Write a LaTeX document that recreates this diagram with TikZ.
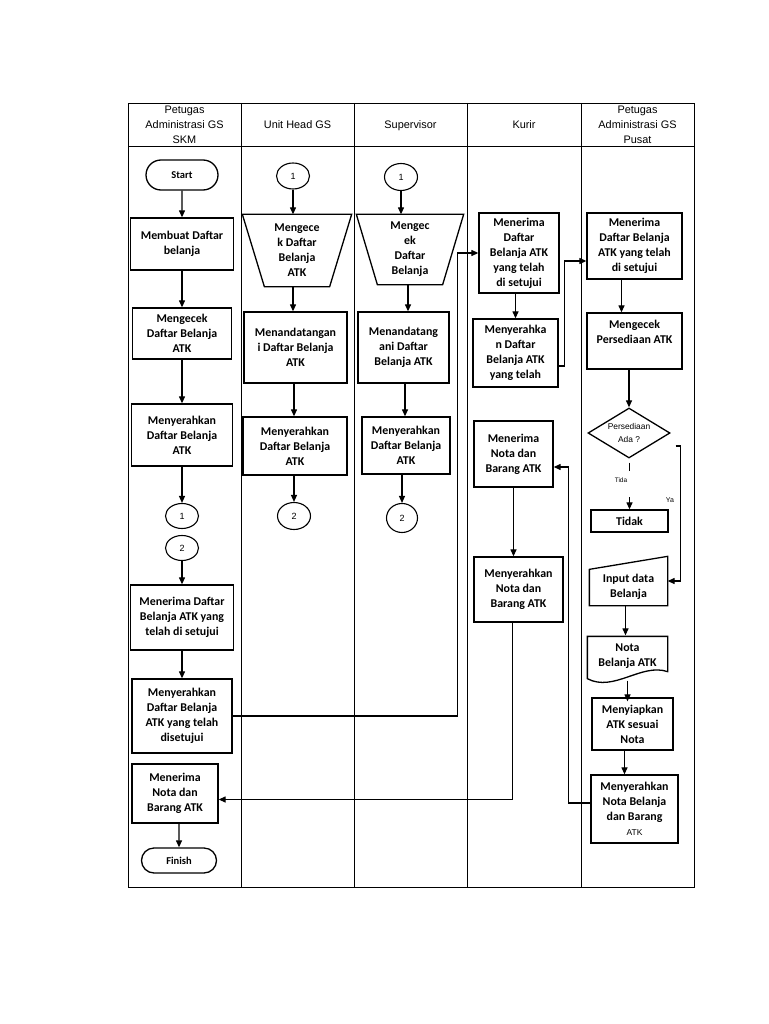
\documentclass[tikz,border=0pt]{standalone}
\usepackage{fontspec}
\setmainfont{Carlito}
\newfontfamily\arialfont{Liberation Sans}
\usetikzlibrary{arrows.meta,calc,shapes.geometric,shapes.misc}
\tikzset{
  every picture/.style={line width=1pt},
  wh/.style 2 args={minimum width=#1pt, minimum height=#2pt},
  box/.style={draw, line width=1.3pt, fill=white, align=center, inner sep=1pt, font=\fontsize{11.9pt}{15pt}\selectfont\bfseries},
  term/.style={box, rounded rectangle, inner sep=0pt, font=\fontsize{10.5pt}{12pt}\selectfont\bfseries},
  conn/.style={draw, ellipse, line width=1.1pt, fill=white, inner sep=0pt, wh={33}{26}, font=\arialfont\fontsize{9pt}{10pt}\selectfont},
  bare/.style={box, draw=none, fill=none},
  shapeline/.style={line width=1.3pt},
  decide/.style={box, diamond, shape aspect=1.64, inner sep=0pt, font=\arialfont\fontsize{8.4pt}{12.5pt}\selectfont},
  flow/.style={-{Triangle[length=7pt,width=6pt]}, line width=1.2pt},
  tbl/.style={line width=0.9pt},
  hdr/.style={align=center, font=\arialfont\fontsize{10.9pt}{15pt}\selectfont},
  note/.style={font=\arialfont\fontsize{6.5pt}{8pt}\selectfont, inner sep=1pt},
}

\begin{document}
\begin{tikzpicture}[x=1pt,y=-1pt]
  \useasboundingbox (0,0) rectangle (768,1024);
  % swimlanes
  \draw[tbl] (128,103) rectangle (694,887);
  \draw[tbl] (128,146) -- (694,146);
  \foreach \x in {241,354,467,581} \draw[tbl] (\x,103) -- (\x,887);
  \node[hdr] (hSkm) at (184.5,125) {Petugas\\Administrasi GS\\SKM};
  \node[hdr, anchor=base] (hUnit) at (297.5,129) {Unit Head GS};
  \node[hdr, anchor=base] (hSpv) at (410.5,129) {Supervisor};
  \node[hdr, anchor=base] (hKurir) at (524,129) {Kurir};
  \node[hdr] (hPusat) at (637.5,125) {Petugas\\Administrasi GS\\Pusat};

  % Petugas Administrasi GS SKM
  \node[term, wh={72}{30}] (sStart) at (182,175) {Start};
  \node[box, wh={103}{52}] (sMake) at (182,244) {Membuat Daftar\\belanja};
  \node[box, wh={99}{51}] (sCheck) at (182,333.5) {Mengecek\\Daftar Belanja\\ATK};
  \node[box, wh={101}{62}] (sHand) at (182,435) {Menyerahkan\\Daftar Belanja\\ATK};
  \node[conn, wh={33}{25}] (sOff1) at (182,516) {1};
  \node[conn, wh={33}{25}] (sOn2) at (182,548) {2};
  \node[box, wh={103}{65}] (sRecv) at (182,617.5) {Menerima Daftar\\Belanja ATK yang\\telah di setujui};
  \node[box, wh={100}{74}] (sSend) at (182,716) {Menyerahkan\\Daftar Belanja\\ATK yang telah\\disetujui};
  \node[box, wh={86}{59}] (sRecvNota) at (175,793.5) {Menerima\\Nota dan\\Barang ATK};
  \node[term, wh={75}{25}] (sFinish) at (179,860.5) {Finish};
  \draw[flow] (sStart) -- (sMake);
  \draw[flow] (sMake) -- (sCheck);
  \draw[flow] (sCheck) -- (sHand);
  \draw[flow] (sHand) -- (sOff1);
  \draw[flow] (sOn2) -- (sRecv);
  \draw[flow] (sRecv) -- (sSend);
  \draw[flow] (sRecvNota.south -| sFinish) -- (sFinish);

  % Unit Head GS
  \node[conn] (uOn1) at (293,176) {1};
  \node[bare, wh={108}{71}] (uCheck) at (297,250.5) {Mengece\\k Daftar\\Belanja\\ATK};
  \draw[shapeline] (uCheck.north west) -- (uCheck.north east) -- ($(uCheck.south east)+(-22,0)$) -- ($(uCheck.south west)+(22,0)$) -- cycle;
  \node[box, wh={103}{71}] (uSign) at (295.5,347.5) {Menandatangan\\i Daftar Belanja\\ATK};
  \node[box, wh={104}{58}] (uHand) at (295,446) {Menyerahkan\\Daftar Belanja\\ATK};
  \node[conn, wh={33}{27}] (uOff2) at (294,516) {2};
  \draw[flow] (uOn1) -- (uOn1 |- uCheck.north);
  \draw[flow] (uCheck.south -| uOn1) -- (uOn1 |- uSign.north);
  \draw[flow] (uSign.south -| uOff2) -- (uOff2 |- uHand.north);
  \draw[flow] (uHand.south -| uOff2) -- (uOff2);

  % Supervisor
  \node[conn, wh={33}{27}] (vOn1) at (401,177) {1};
  \node[bare, wh={106}{69}] (vCheck) at (410,249.5) {Mengec\\ek\\Daftar\\Belanja};
  \draw[shapeline] (vCheck.north west) -- (vCheck.north east) -- ($(vCheck.south east)+(-21,0)$) -- ($(vCheck.south west)+(21,0)$) -- cycle;
  \node[box, wh={91}{71}] (vSign) at (403.5,347.5) {Menandatang\\ani Daftar\\Belanja ATK};
  \node[box, wh={88}{57}] (vHand) at (406,445.5) {Menyerahkan\\Daftar Belanja\\ATK};
  \node[conn, wh={31}{29}] (vOff2) at (402,518) {2};
  \draw[flow] (vOn1) -- (vOn1 |- vCheck.north);
  \draw[flow] ([xshift=-2pt]vCheck.south) -- ([xshift=-2pt]vCheck.south |- vSign.north);
  \draw[flow] ([xshift=1.5pt]vSign.south) -- ([xshift=1.5pt]vSign.south |- vHand.north);
  \draw[flow] (vHand.south -| vOff2) -- (vOff2);

  % Kurir
  \node[box, wh={80}{80}] (kRecv) at (519,253) {Menerima\\Daftar\\Belanja ATK\\yang telah\\di setujui};
  \node[box, wh={85}{68}] (kSend) at (515.5,353) {Menyerahka\\n Daftar\\Belanja ATK\\yang telah};
  \node[box, wh={79}{66}] (kRecvNota) at (513.5,454) {Menerima\\Nota dan\\Barang ATK};
  \node[box, wh={89}{65}] (kSendNota) at (518.5,589.5) {Menyerahkan\\Nota dan\\Barang ATK};
  \draw[flow] (kRecv.south -| kSend.north) -- (kSend.north);
  \draw[flow] (kRecvNota.south) -- (kRecvNota.south |- kSendNota.north);

  % Petugas Administrasi GS Pusat
  \node[box, wh={95}{66}] (pRecv) at (634.5,246) {Menerima\\Daftar Belanja\\ATK yang telah\\di setujui};
  \node[box, wh={95}{56}] (pCheck) at (634.5,341) {Mengecek\\Persediaan ATK\\[4pt]};
  \node[decide, wh={82}{50}] (pDecide) at (629,433) {Persediaan\\Ada ?};
  \node[note] (tida) at (621,480) {Tida};
  \node[note, font=\arialfont\fontsize{7pt}{8pt}\selectfont] (ya) at (670,500) {Ya};
  \node[box, wh={77}{22}] (pNo) at (629.5,521) {Tidak};
  \node[bare, wh={77}{36}] (pInput) at (628.5,587) {Input data\\Belanja};
  \draw[shapeline] (pInput.south west) -- ($(pInput.north west)+(0,1)$) -- ($(pInput.north east)+(0,-12)$) -- (pInput.south east) -- cycle;
  \node[bare, wh={79}{40}] (pNota) at (627.5,656) {Nota\\Belanja ATK};
  \draw[shapeline] ($(pNota.north west)+(0,1)$) -- ($(pNota.north east)+(0,1)$) -- ($(pNota.south east)+(0,-5)$) .. controls ($(pNota.south)+(14,-14)$) and ($(pNota.south)+(-14,16)$) .. ($(pNota.south west)+(0,2)$) -- cycle;
  \node[box, wh={81}{52}] (pPrep) at (632.5,724) {Menyiapkan\\ATK sesuai\\Nota};
  \node[box, wh={87}{68}] (pSend) at (634.5,809) {Menyerahkan\\Nota Belanja\\dan Barang\\{\arialfont\mdseries\fontsize{8.5pt}{10pt}\selectfont ATK}};
  \draw[flow] ([xshift=-13pt]pRecv.south) -- ([xshift=-13pt]pRecv.south |- pCheck.north);
  \draw[flow] (pCheck.south -| pDecide.north) -- (pDecide.north);
  \draw ([yshift=-4pt]pDecide.south) -- ++(0,8);
  \draw[flow] ([yshift=12pt]pNo.north) -- (pNo.north);
  \draw[flow] ([shift={(5pt,-13pt)}]pDecide.east) -- ++(5,0) |- ([yshift=6pt]pInput.east);
  \draw[flow] ([xshift=-3pt]pInput.south) -- ([xshift=-3pt]pInput.south |- pNota.north);
  \draw[flow] ([yshift=-4pt]pNota.south) -- ([yshift=-4pt]pNota.south |- pPrep.north);
  \draw[flow] ([xshift=-8pt]pPrep.south) -- ([xshift=-8pt]pPrep.south |- pSend.north);

  % hand-overs between lanes
  \draw[flow] (sSend.east) -- ++(225,0) |- (kRecv.west);
  \draw[flow] ([yshift=-13pt]kSend.east) -- ++(6,0) |- ([yshift=-15pt]pRecv.west);
  \draw[flow] ([xshift=-6pt]kSendNota.south) |- ([yshift=-6pt]sRecvNota.east);
  \draw[flow] ([yshift=6pt]pSend.west) -- ++(-22,0) |- ([yshift=-13pt]kRecvNota.east);
\end{tikzpicture}
\end{document}
